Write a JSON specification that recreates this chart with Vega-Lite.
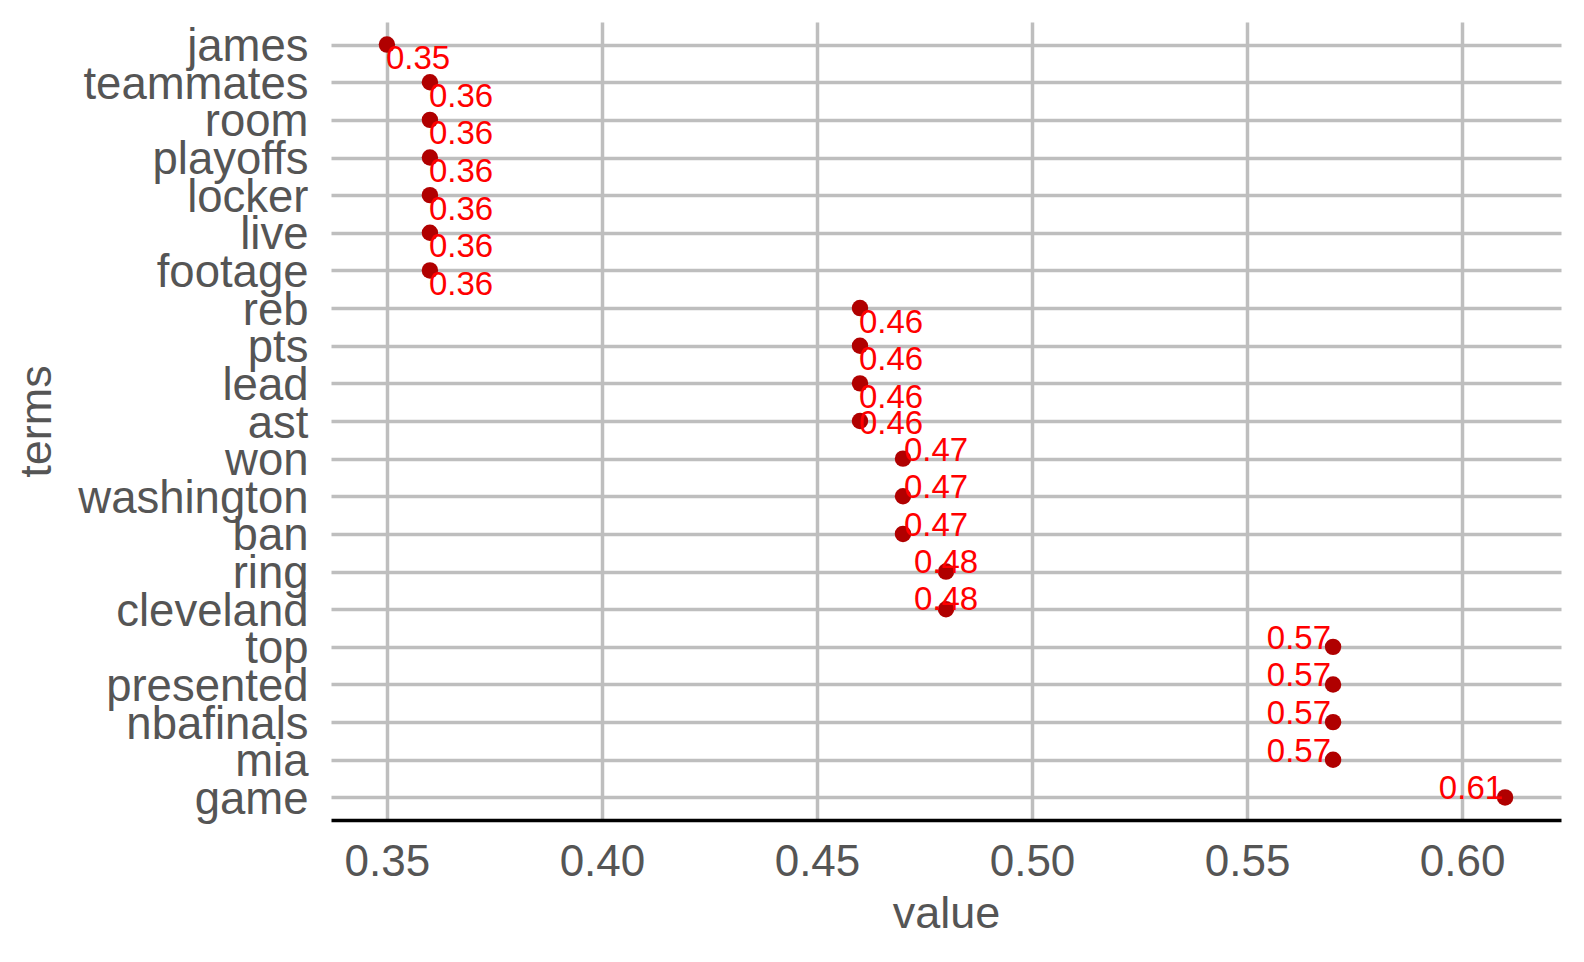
{
  "$schema": "https://vega.github.io/schema/vega-lite/v6.json",
  "width": 1230,
  "height": 798,
  "autosize": "none",
  "padding": {"left": 331, "top": 22, "right": 23, "bottom": 142},
  "background": "white",
  "config": {"view": {"stroke": null}, "font": "Liberation Sans"},
  "data": {"values": [
    {"terms": "james", "value": 0.35},
    {"terms": "teammates", "value": 0.36},
    {"terms": "room", "value": 0.36},
    {"terms": "playoffs", "value": 0.36},
    {"terms": "locker", "value": 0.36},
    {"terms": "live", "value": 0.36},
    {"terms": "footage", "value": 0.36},
    {"terms": "reb", "value": 0.46},
    {"terms": "pts", "value": 0.46},
    {"terms": "lead", "value": 0.46},
    {"terms": "ast", "value": 0.46},
    {"terms": "won", "value": 0.47},
    {"terms": "washington", "value": 0.47},
    {"terms": "ban", "value": 0.47},
    {"terms": "ring", "value": 0.48},
    {"terms": "cleveland", "value": 0.48},
    {"terms": "top", "value": 0.57},
    {"terms": "presented", "value": 0.57},
    {"terms": "nbafinals", "value": 0.57},
    {"terms": "mia", "value": 0.57},
    {"terms": "game", "value": 0.61}
  ]},
  "encoding": {
    "y": {
      "field": "terms",
      "type": "nominal",
      "sort": ["james","teammates","room","playoffs","locker","live","footage","reb","pts","lead","ast","won","washington","ban","ring","cleveland","top","presented","nbafinals","mia","game"],
      "scale": {"type": "point", "padding": 0.6},
      "axis": {
        "title": "terms",
        "grid": true,
        "gridColor": "#BEBEBE",
        "gridWidth": 3.5,
        "domain": false,
        "ticks": false,
        "labelFontSize": 45.5,
        "labelColor": "#555555",
        "labelPadding": 23,
        "labelLimit": 0,
        "labelBaseline": "middle",
        "labelOffset": 2,
        "titleFontSize": 45,
        "titleFontWeight": "normal",
        "titleColor": "#555555",
        "titleAngle": -90,
        "titleX": -281,
        "titleY": 399,
        "titleAlign": "center",
        "titleBaseline": "alphabetic"
      }
    },
    "x": {
      "field": "value",
      "type": "quantitative",
      "scale": {"domain": [0.337, 0.623], "nice": false, "zero": false},
      "axis": {
        "title": "value",
        "values": [0.35, 0.4, 0.45, 0.5, 0.55, 0.6],
        "format": ".2f",
        "grid": true,
        "gridColor": "#BEBEBE",
        "gridWidth": 3.5,
        "domain": true,
        "domainColor": "black",
        "domainWidth": 3.5,
        "ticks": false,
        "labelFontSize": 44,
        "labelColor": "#555555",
        "labelPadding": 20,
        "labelFlush": false,
        "titleFontSize": 45,
        "titleFontWeight": "normal",
        "titleColor": "#555555",
        "titleBaseline": "alphabetic",
        "titleY": 107
      }
    }
  },
  "layer": [
    {"mark": {"type": "circle", "size": 270, "color": "#B00000", "opacity": 1}},
    {
      "transform": [{"filter": {"field": "terms", "oneOf": ["james","teammates","room","playoffs","locker","live","footage","reb","pts","lead"]}}],
      "mark": {"type": "text", "align": "left", "baseline": "middle", "dx": -1, "dy": 14.5, "fontSize": 33, "color": "#FF0000"},
      "encoding": {"text": {"field": "value", "type": "quantitative", "format": ".2f"}}
    },
    {
      "transform": [{"filter": {"field": "terms", "oneOf": ["ast"]}}],
      "mark": {"type": "text", "align": "left", "baseline": "middle", "dx": -1, "dy": 2.5, "fontSize": 33, "color": "#FF0000"},
      "encoding": {"text": {"field": "value", "type": "quantitative", "format": ".2f"}}
    },
    {
      "transform": [{"filter": {"field": "terms", "oneOf": ["won","washington","ban"]}}],
      "mark": {"type": "text", "align": "left", "baseline": "middle", "dx": 1, "dy": -8, "fontSize": 33, "color": "#FF0000"},
      "encoding": {"text": {"field": "value", "type": "quantitative", "format": ".2f"}}
    },
    {
      "transform": [{"filter": {"field": "terms", "oneOf": ["ring","cleveland"]}}],
      "mark": {"type": "text", "align": "center", "baseline": "middle", "dx": 0, "dy": -9, "fontSize": 33, "color": "#FF0000"},
      "encoding": {"text": {"field": "value", "type": "quantitative", "format": ".2f"}}
    },
    {
      "transform": [{"filter": {"field": "terms", "oneOf": ["top","presented","nbafinals","mia","game"]}}],
      "mark": {"type": "text", "align": "right", "baseline": "middle", "dx": -2, "dy": -8, "fontSize": 33, "color": "#FF0000"},
      "encoding": {"text": {"field": "value", "type": "quantitative", "format": ".2f"}}
    }
  ]
}
